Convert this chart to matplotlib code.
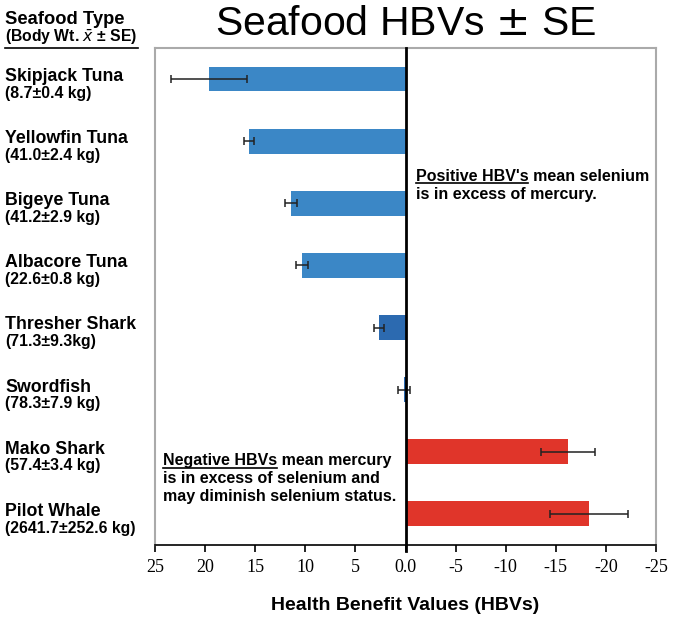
import numpy as np
import matplotlib
matplotlib.use("Agg")
import matplotlib.pyplot as plt
import matplotlib.transforms as mtransforms
from matplotlib.lines import Line2D

# data
species = ['Skipjack Tuna', 'Yellowfin Tuna', 'Bigeye Tuna', 'Albacore Tuna',
           'Thresher Shark', 'Swordfish', 'Mako Shark', 'Pilot Whale']
body_wt = ['(8.7±0.4 kg)', '(41.0±2.4 kg)', '(41.2±2.9 kg)', '(22.6±0.8 kg)',
           '(71.3±9.3kg)', '(78.3±7.9 kg)', '(57.4±3.4 kg)', '(2641.7±252.6 kg)']
hbv = [19.6, 15.6, 11.4, 10.3, 2.6, 0.15, -16.2, -18.3]
hbv_se = [3.8, 0.5, 0.6, 0.6, 0.5, 0.6, 2.7, 3.9]
tick_vals = [25, 20, 15, 10, 5, 0, -5, -10, -15, -20, -25]
tick_labels = ['25', '20', '15', '10', '5', '0.0', '-5', '-10', '-15', '-20', '-25']

BLUE = '#3B87C6'
DARK_BLUE = '#2C6AB0'
RED = '#E0352A'
colors = [BLUE, BLUE, BLUE, BLUE, DARK_BLUE, DARK_BLUE, RED, RED]

SANS = 'Liberation Sans'
SERIF = 'Liberation Serif'

fig = plt.figure(figsize=(6.85, 6.2), dpi=100)
ax = fig.add_axes([0.2263, 0.121, 0.7314, 0.8016])

y = np.arange(len(species))
ax.barh(y, hbv, height=0.4, color=colors, zorder=2)
ax.errorbar(hbv, y, xerr=hbv_se, fmt='none', ecolor='#222222',
            elinewidth=1.1, capsize=3, capthick=1.1, zorder=3)
ax.axvline(0, color='black', lw=2, zorder=4, ymin=-0.012, clip_on=False)

ax.set_xlim(25, -25)
ax.set_ylim(len(species) - 0.5, -0.5)
ax.set_yticks([])
ax.set_xticks(tick_vals)
ax.set_xticklabels(tick_labels, fontfamily=SERIF, fontsize=13)
ax.tick_params(axis='x', direction='out', length=5, width=1.2, pad=5)

for side in ['left', 'top', 'right']:
    ax.spines[side].set_color('#aaaaaa')
    ax.spines[side].set_linewidth(1.5)
ax.spines['bottom'].set_color('black')
ax.spines['bottom'].set_linewidth(1.2)

ax.set_xlabel('Health Benefit Values (HBVs)', fontfamily=SANS, fontsize=14,
              fontweight='bold', labelpad=15)

# category labels to the left of the axes
trans = mtransforms.blended_transform_factory(fig.transFigure, ax.transData)
for i in range(len(species)):
    ax.text(0.008, y[i] + 0.03, species[i], transform=trans, ha='left',
            va='baseline', fontfamily=SANS, fontsize=12.8, fontweight='bold')
    ax.text(0.008, y[i] + 0.30, body_wt[i], transform=trans, ha='left',
            va='baseline', fontfamily=SANS, fontsize=11.4, fontweight='bold')

fig.text(0.592, 0.944, 'Seafood HBVs $\\pm$ SE', ha='center', va='baseline',
         fontfamily=SANS, fontsize=29.5)
fig.text(0.008, 0.962, 'Seafood Type', ha='left', va='baseline',
         fontfamily=SANS, fontsize=13.2, fontweight='bold')
hdr = fig.text(0.008, 0.932, '(Body Wt. $\\bar{x}$ ± SE)', ha='left', va='baseline',
               fontfamily=SANS, fontsize=11.3, fontweight='bold')

pos = ax.text(-1.0, 1.45, "Positive HBV's mean selenium\nis in excess of mercury.",
              ha='left', va='top', fontfamily=SANS, fontsize=11.5,
              fontweight='bold', linespacing=1.25)
pos_u = ax.text(-1.0, 1.45, "Positive HBV's", ha='left', va='top',
                fontfamily=SANS, fontsize=11.5, fontweight='bold', alpha=0)
neg = ax.text(24.2, 6.02, 'Negative HBVs mean mercury\nis in excess of selenium and\nmay diminish selenium status.',
              ha='left', va='top', fontfamily=SANS, fontsize=11.5,
              fontweight='bold', linespacing=1.25)
neg_u = ax.text(24.2, 6.02, 'Negative HBVs', ha='left', va='top',
                fontfamily=SANS, fontsize=11.5, fontweight='bold', alpha=0)

# underline selected words
fig.canvas.draw()
r = fig.canvas.get_renderer()
for t, off in [(pos_u, 1.5), (neg_u, 0.5), (hdr, -1.0)]:
    bb = t.get_window_extent(r)
    yy = bb.y0 + off
    fig.add_artist(Line2D([bb.x0, bb.x1], [yy, yy], transform=None,
                          color='black', lw=1.2))

fig.savefig('out.png', dpi=100)
